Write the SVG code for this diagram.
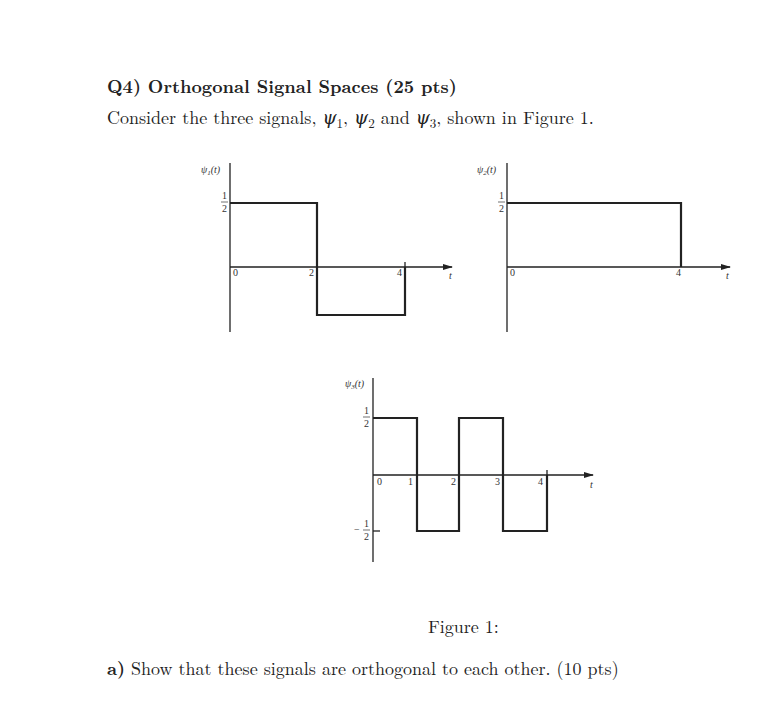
<svg xmlns="http://www.w3.org/2000/svg" width="783" height="703" viewBox="0 0 783 703">
<style>
.t{font-family:"Latin Modern Roman","DejaVu Serif","Liberation Serif",serif;fill:#222;font-size:18px}
.s{font-family:"Liberation Serif",serif;fill:#333;font-size:10px}
.i{font-style:italic}
.ax{stroke:#222;stroke-width:1.3;fill:none}
.sg{stroke:#222;stroke-width:2.2;fill:none}
</style>
<defs><marker id="a" markerWidth="10" markerHeight="6" refX="9" refY="3" orient="auto" markerUnits="userSpaceOnUse"><path d="M0,0L10,3L0,6z" fill="#222"/></marker></defs>
<rect width="783" height="703" fill="#fff"/>
<text class="t" x="107" y="93" font-weight="bold">Q4) Orthogonal Signal Spaces (25 pts)</text>
<text class="t" x="107" y="124">Consider the three signals, <tspan class="i">ψ</tspan><tspan font-size="13" dy="4">1</tspan><tspan dy="-4">, </tspan><tspan class="i">ψ</tspan><tspan font-size="13" dy="4">2</tspan><tspan dy="-4"> and </tspan><tspan class="i">ψ</tspan><tspan font-size="13" dy="4">3</tspan><tspan dy="-4">, shown in Figure 1.</tspan></text>
<g id="plot1">
<path class="ax" d="M230,163V332M230,267H452" marker-end="url(#a)"/>
<path class="sg" d="M230,203H317V315H405V267"/>
<line class="ax" x1="405" y1="262" x2="405" y2="267"/>
<text class="s i" x="201" y="173">ψ<tspan font-size="7" dy="2">1</tspan><tspan dy="-2">(t)</tspan></text>
<text class="s" x="222" y="199">1</text><line x1="221" y1="202" x2="228" y2="202" stroke="#333" stroke-width="0.7"/><text class="s" x="222" y="212">2</text>
<text class="s" x="233" y="276">0</text><text class="s" x="309" y="276">2</text><text class="s" x="397" y="276">4</text><text class="s i" x="449" y="279">t</text>
</g>
<g id="plot2">
<path class="ax" d="M507,163V332M507,267H730" marker-end="url(#a)"/>
<path class="sg" d="M507,203H681V267"/>
<text class="s i" x="477" y="173">ψ<tspan font-size="7" dy="2">2</tspan><tspan dy="-2">(t)</tspan></text>
<text class="s" x="499" y="199">1</text><line x1="498" y1="202" x2="505" y2="202" stroke="#333" stroke-width="0.7"/><text class="s" x="499" y="212">2</text>
<text class="s" x="510" y="276">0</text><text class="s" x="676" y="276">4</text><text class="s i" x="726" y="279">t</text>
</g>
<g id="plot3">
<path class="ax" d="M373,378V562M373,475H593" marker-end="url(#a)"/>
<path class="sg" d="M373,418H417V531H459V418H503V531H547V475"/>
<line class="ax" x1="547" y1="470" x2="547" y2="475"/>
<line class="ax" x1="373" y1="531" x2="380" y2="531"/>
<text class="s i" x="345" y="387">ψ<tspan font-size="7" dy="2">3</tspan><tspan dy="-2">(t)</tspan></text>
<text class="s" x="364" y="414">1</text><line x1="363" y1="417" x2="370" y2="417" stroke="#333" stroke-width="0.7"/><text class="s" x="364" y="427">2</text>
<text class="s" x="354" y="533">−</text><text class="s" x="364" y="527">1</text><line x1="363" y1="530" x2="370" y2="530" stroke="#333" stroke-width="0.7"/><text class="s" x="364" y="540">2</text>
<text class="s" x="377" y="485">0</text><text class="s" x="408" y="485">1</text><text class="s" x="451" y="485">2</text><text class="s" x="495" y="485">3</text><text class="s" x="538" y="485">4</text><text class="s i" x="590" y="488">t</text>
</g>
<text class="t" x="428" y="633">Figure 1:</text>
<text class="t" x="107" y="675"><tspan font-weight="bold">a)</tspan> Show that these signals are orthogonal to each other. (10 pts)</text>
</svg>
